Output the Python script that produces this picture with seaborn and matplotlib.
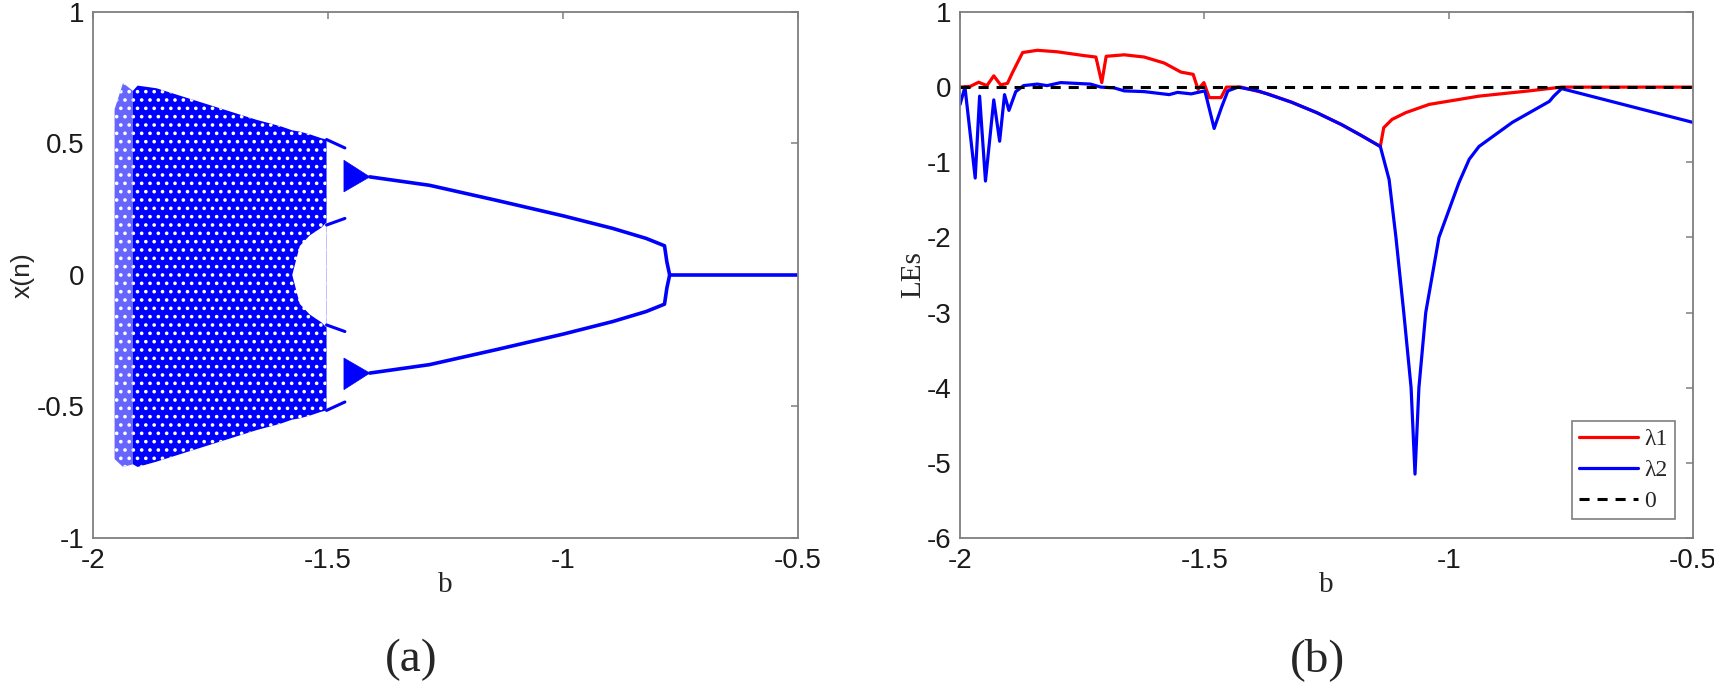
import numpy as np
import pandas as pd
import matplotlib
matplotlib.use("Agg")
import matplotlib.pyplot as plt
import seaborn as sns

# ---------------- data ----------------
# (a) bifurcation diagram: chaotic band envelope
chaos_b = [-1.915, -1.905, -1.865, -1.794, -1.723, -1.652, -1.600, -1.576, -1.560, -1.539, -1.514, -1.503]
chaos_top = [0.70, 0.72, 0.71, 0.67, 0.63, 0.59, 0.565, 0.55, 0.545, 0.535, 0.52, 0.515]
chaos_bottom = [-0.72, -0.73, -0.71, -0.67, -0.63, -0.59, -0.565, -0.55, -0.545, -0.535, -0.52, -0.515]
chaos_gap_top = [0.0, 0.0, 0.0, 0.0, 0.0, 0.0, 0.0, 0.0, 0.11, 0.15, 0.18, 0.20]
chaos_gap_bottom = [0.0, 0.0, 0.0, 0.0, 0.0, 0.0, 0.0, 0.0, -0.11, -0.15, -0.18, -0.20]
# sparse column at the left edge of the band
sparse_b = [-1.954, -1.936, -1.915]
sparse_top = [0.63, 0.73, 0.70]
sparse_bottom = [-0.70, -0.73, -0.72]
# short tails leaving the band
tail_b = [-1.503, -1.464]
tail_outer_up = [0.515, 0.483]
tail_inner_up = [0.19, 0.215]
tail_inner_dn = [-0.19, -0.215]
tail_outer_dn = [-0.515, -0.483]
# small triangles (period-doubling cascade)
tri_b = [-1.466, -1.466, -1.411]
tri_up = [0.436, 0.316, 0.373]
tri_dn = [-0.436, -0.316, -0.373]
# period-2 branches and fixed point
branch_b = [-1.411, -1.284, -1.142, -1.0, -0.894, -0.823, -0.784, -0.779, -0.773]
branch_up = [0.373, 0.341, 0.284, 0.225, 0.177, 0.139, 0.111, 0.05, 0.0]
branch_dn = [-0.373, -0.341, -0.284, -0.225, -0.177, -0.139, -0.111, -0.05, 0.0]
fixed_b = [-0.773, -0.5]
fixed_x = [0.0, 0.0]

# (b) Lyapunov exponents
lam1_b = [-2.0, -1.979, -1.962, -1.945, -1.931, -1.917, -1.903, -1.893, -1.872, -1.842,
          -1.801, -1.747, -1.722, -1.710, -1.701, -1.664, -1.623, -1.582, -1.548, -1.523,
          -1.513, -1.501, -1.490, -1.466, -1.455, -1.425, -1.37, -1.322, -1.27, -1.219,
          -1.18, -1.140, -1.133, -1.116, -1.088, -1.040, -0.938, -0.835, -0.769, -0.5]
lam1 = [0.0, 0.01, 0.065, 0.02, 0.15, 0.03, 0.05, 0.19, 0.46, 0.49,
        0.47, 0.42, 0.40, 0.06, 0.41, 0.43, 0.40, 0.32, 0.20, 0.17,
        -0.03, 0.06, -0.14, -0.14, 0.0, 0.0, -0.09, -0.2, -0.34, -0.5,
        -0.64, -0.79, -0.54, -0.43, -0.34, -0.23, -0.12, -0.05, 0.0, 0.0]
lam2_b = [-2.0, -1.990, -1.969, -1.960, -1.948, -1.931, -1.919, -1.909, -1.900, -1.886,
          -1.870, -1.842, -1.822, -1.794, -1.733, -1.712, -1.685, -1.664, -1.623, -1.572,
          -1.555, -1.527, -1.499, -1.480, -1.465, -1.452, -1.431, -1.39, -1.322, -1.27,
          -1.219, -1.18, -1.140, -1.122, -1.108, -1.092, -1.077, -1.069, -1.061, -1.047,
          -1.020, -0.979, -0.958, -0.938, -0.870, -0.794, -0.785, -0.769, -0.5]
lam2 = [-0.23, 0.0, -1.21, -0.12, -1.25, -0.17, -0.72, -0.10, -0.31, -0.06,
        0.02, 0.04, 0.02, 0.06, 0.04, 0.0, -0.01, -0.05, -0.06, -0.10,
        -0.07, -0.09, -0.05, -0.55, -0.27, -0.05, 0.0, -0.05, -0.2, -0.34,
        -0.5, -0.64, -0.79, -1.23, -2.0, -3.0, -4.0, -5.15, -4.0, -3.0,
        -2.0, -1.27, -0.96, -0.79, -0.47, -0.19, -0.12, -0.02, -0.47]
zero_b = [-2.0, -0.5]
zero_v = [0.0, 0.0]

xticks = [-2, -1.5, -1, -0.5]
xtick_labels = ["-2", "-1.5", "-1", "-0.5"]
a_yticks = [-1, -0.5, 0, 0.5, 1]
a_ytick_labels = ["-1", "-0.5", "0", "0.5", "1"]
b_yticks = [-6, -5, -4, -3, -2, -1, 0, 1]
b_ytick_labels = ["-6", "-5", "-4", "-3", "-2", "-1", "0", "1"]

# ---------------- styling ----------------
sns.set_style("white")
plt.rcParams["font.family"] = ["Liberation Sans", "DejaVu Sans"]
plt.rcParams["hatch.color"] = "white"
plt.rcParams["hatch.linewidth"] = 1.4
SERIF = ["Liberation Serif", "DejaVu Serif"]
BLUE = "#0000ff"
RED = "#ff0000"
GRAY = "#7f7f7f"

fig = plt.figure(figsize=(17.15, 6.84), dpi=100)
axA = fig.add_axes([0.0542, 0.2135, 0.4111, 0.769])
axB = fig.add_axes([0.5598, 0.2135, 0.4274, 0.769])

for ax in (axA, axB):
    for s in ax.spines.values():
        s.set_color(GRAY)
        s.set_linewidth(1.3)
        s.set_visible(True)
    ax.tick_params(direction="in", length=5, width=1.1, color=GRAY,
                   top=True, right=True, labelsize=20, labelcolor="#1a1a1a")
    ax.tick_params(axis="x", pad=7)
    ax.tick_params(axis="y", pad=6)
    ax.set_xlim(-2, -0.5)
    ax.set_xticks(xticks)
    ax.set_xticklabels(xtick_labels)

# ---------------- (a) ----------------
axA.fill_between(sparse_b, sparse_bottom, sparse_top, facecolor=(0, 0, 1, 0.6),
                 edgecolor="white", hatch="..", linewidth=0)
axA.fill_between(chaos_b, chaos_bottom, chaos_top, facecolor=BLUE, edgecolor="white",
                 hatch="..", linewidth=0)
axA.fill_between(chaos_b, chaos_gap_bottom, chaos_gap_top, facecolor="white",
                 edgecolor="none", linewidth=0)
for yy in (tail_outer_up, tail_inner_up, tail_inner_dn, tail_outer_dn):
    sns.lineplot(x=tail_b, y=yy, ax=axA, color=BLUE, lw=2.2)
axA.fill(tri_b, tri_up, color=BLUE, lw=0.5)
axA.fill(tri_b, tri_dn, color=BLUE, lw=0.5)
sns.lineplot(x=branch_b, y=branch_up, ax=axA, color=BLUE, lw=2.6, sort=False)
sns.lineplot(x=branch_b, y=branch_dn, ax=axA, color=BLUE, lw=2.6, sort=False)
sns.lineplot(x=fixed_b, y=fixed_x, ax=axA, color=BLUE, lw=2.6)
axA.set_ylim(-1, 1)
axA.set_yticks(a_yticks)
axA.set_yticklabels(a_ytick_labels)
axA.set_xlabel("b", fontsize=21, family=SERIF)
axA.set_ylabel("x(n)", fontsize=19)
axA.xaxis.set_label_coords(0.5, -0.089)
axA.xaxis.label.set_va("center")
axA.yaxis.set_label_coords(-0.10, 0.5)
axA.yaxis.label.set_va("center")

# ---------------- (b) ----------------
df1 = pd.DataFrame({"b": lam1_b, "v": lam1})
df2 = pd.DataFrame({"b": lam2_b, "v": lam2})
df0 = pd.DataFrame({"b": zero_b, "v": zero_v})
sns.lineplot(data=df1, x="b", y="v", ax=axB, color=RED, lw=2.3, sort=False, label="λ1")
sns.lineplot(data=df2, x="b", y="v", ax=axB, color=BLUE, lw=2.3, sort=False, label="λ2")
sns.lineplot(data=df0, x="b", y="v", ax=axB, color="black", lw=2.2, label="0",
             linestyle=(0, (3.3, 2.6)))
axB.set_ylim(-6, 1)
axB.set_yticks(b_yticks)
axB.set_yticklabels(b_ytick_labels)
axB.set_xlabel("b", fontsize=21, family=SERIF)
axB.set_ylabel("LEs", fontsize=21, family=SERIF)
axB.xaxis.set_label_coords(0.5, -0.089)
axB.xaxis.label.set_va("center")
axB.yaxis.set_label_coords(-0.064, 0.5)
axB.yaxis.label.set_va("center")
leg = axB.legend(loc="lower right", bbox_to_anchor=(0.975, 0.036), borderaxespad=0,
                 prop={"family": SERIF, "size": 17}, handlelength=2.5,
                 handletextpad=0.25, labelspacing=0.4, borderpad=0.3,
                 fancybox=False, framealpha=1, edgecolor=GRAY)
leg.get_frame().set_linewidth(1.2)

# panel captions
fig.text(0.240, 0.036, "(a)", ha="center", va="center", fontsize=34, family=SERIF)
fig.text(0.768, 0.036, "(b)", ha="center", va="center", fontsize=34, family=SERIF)

fig.savefig("out.png", dpi=100, facecolor="white")
